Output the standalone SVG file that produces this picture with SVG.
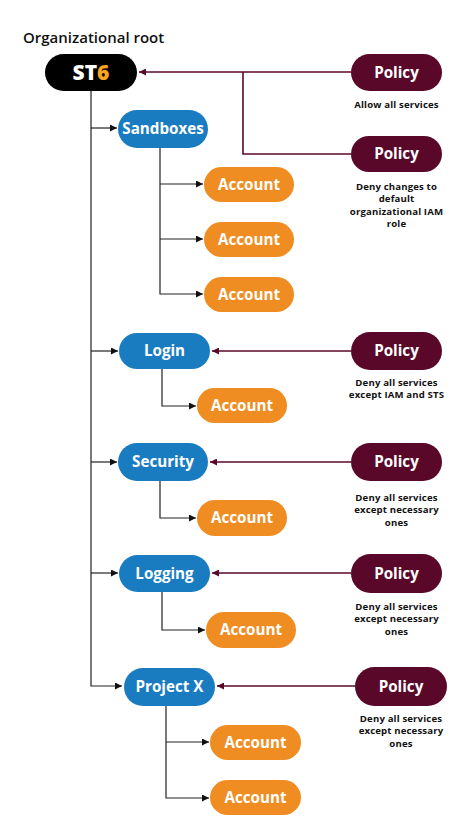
<svg xmlns="http://www.w3.org/2000/svg" width="474" height="834" viewBox="0 0 474 834">
<style>
.t{font-family:"Open Sans","Liberation Sans",sans-serif;font-weight:700;text-anchor:middle;fill:#fff;font-size:15.2px}
.l{font-family:"Open Sans","Liberation Sans",sans-serif;font-weight:700;text-anchor:middle;fill:#111;font-size:9.6px;letter-spacing:0.15px}
.ou{fill:#1a7cc0}
.ac{fill:#ef8d22}
.po{fill:#5a0829}
.k{fill:none;stroke:#222;stroke-width:1.2}
.m{fill:none;stroke:#5a0829;stroke-width:1.6}
</style>
<defs>
<marker id="ak" viewBox="0 0 10 10" refX="10" refY="5" markerWidth="8" markerHeight="7" markerUnits="userSpaceOnUse" orient="auto"><path d="M0,0L10,5L0,10z" fill="#111"/></marker>
<marker id="am" viewBox="0 0 10 10" refX="10" refY="5" markerWidth="9" markerHeight="7" markerUnits="userSpaceOnUse" orient="auto"><path d="M0,0L10,5L0,10z" fill="#5a0829"/></marker>
</defs>
<rect width="474" height="834" fill="#fff"/>
<text x="23" y="43" style="font-family:'Open Sans','Liberation Sans',sans-serif;font-weight:600;font-size:15px;fill:#111">Organizational root</text>
<g id="connectors">
<path class="k" d="M91,91V686H122" marker-end="url(#ak)"/>
<path class="k" d="M91,128H117" marker-end="url(#ak)"/>
<path class="k" d="M91,351H118" marker-end="url(#ak)"/>
<path class="k" d="M91,462H117" marker-end="url(#ak)"/>
<path class="k" d="M91,573H118" marker-end="url(#ak)"/>
<path class="k" d="M160,148V294H203" marker-end="url(#ak)"/>
<path class="k" d="M160,184H203" marker-end="url(#ak)"/>
<path class="k" d="M160,239H203" marker-end="url(#ak)"/>
<path class="k" d="M162,369V406H196" marker-end="url(#ak)"/>
<path class="k" d="M160,481V518H196" marker-end="url(#ak)"/>
<path class="k" d="M162,592V630H205" marker-end="url(#ak)"/>
<path class="k" d="M166,706V798H209" marker-end="url(#ak)"/>
<path class="k" d="M166,742H209" marker-end="url(#ak)"/>
<path class="m" d="M351,72H139" marker-end="url(#am)"/>
<path class="m" d="M351,154H243V72"/>
<path class="m" d="M351,351H212" marker-end="url(#am)"/>
<path class="m" d="M351,462H210" marker-end="url(#am)"/>
<path class="m" d="M351,573H212" marker-end="url(#am)"/>
<path class="m" d="M355,686H217" marker-end="url(#am)"/>
</g>
<g id="root"><rect x="45" y="54" width="92" height="37" rx="18.5" fill="#000"/><text x="91" y="80" style="font-family:'Open Sans','Liberation Sans',sans-serif;font-weight:800;font-size:21px;text-anchor:middle;fill:#fff">ST<tspan fill="#f5a623">6</tspan></text></g>
<g id="sandboxes"><rect class="ou" x="118" y="110" width="90" height="38" rx="19"/><text class="t" x="163" y="134">Sandboxes</text></g>
<g id="acc1"><rect class="ac" x="204" y="167" width="90" height="35" rx="17.5"/><text class="t" x="249" y="189.5">Account</text></g>
<g id="acc2"><rect class="ac" x="204" y="222" width="90" height="35" rx="17.5"/><text class="t" x="249" y="244.5">Account</text></g>
<g id="acc3"><rect class="ac" x="204" y="277" width="90" height="35" rx="17.5"/><text class="t" x="249" y="299.5">Account</text></g>
<g id="login"><rect class="ou" x="119" y="333" width="91" height="36" rx="18"/><text class="t" x="164.5" y="356">Login</text></g>
<g id="acc4"><rect class="ac" x="197" y="388" width="90" height="35" rx="17.5"/><text class="t" x="242" y="410.5">Account</text></g>
<g id="security"><rect class="ou" x="118" y="443" width="90" height="38" rx="19"/><text class="t" x="163" y="467">Security</text></g>
<g id="acc5"><rect class="ac" x="197" y="500" width="90" height="36" rx="18"/><text class="t" x="242" y="523">Account</text></g>
<g id="logging"><rect class="ou" x="119" y="555" width="91" height="37" rx="18.5"/><text class="t" x="164.5" y="578.5">Logging</text></g>
<g id="acc6"><rect class="ac" x="206" y="612" width="90" height="36" rx="18"/><text class="t" x="251" y="635">Account</text></g>
<g id="projectx"><rect class="ou" x="124" y="668" width="91" height="38" rx="19"/><text class="t" x="169.5" y="692">Project X</text></g>
<g id="acc7"><rect class="ac" x="210" y="725" width="91" height="35" rx="17.5"/><text class="t" x="255.5" y="747.5">Account</text></g>
<g id="acc8"><rect class="ac" x="210" y="780" width="91" height="35" rx="17.5"/><text class="t" x="255.5" y="802.5">Account</text></g>
<g id="policy1"><rect class="po" x="351" y="54" width="91" height="37" rx="18.5"/><text class="t" x="396.5" y="78">Policy</text><text class="l" x="396.5" y="108">Allow all services</text></g>
<g id="policy2"><rect class="po" x="351" y="136" width="91" height="36" rx="18"/><text class="t" x="396.5" y="159">Policy</text><text class="l" x="396.5" y="190">Deny changes to</text><text class="l" x="396.5" y="202.3">default</text><text class="l" x="396.5" y="214.6">organizational IAM</text><text class="l" x="396.5" y="226.9">role</text></g>
<g id="policy3"><rect class="po" x="351" y="332" width="91" height="38" rx="19"/><text class="t" x="396.5" y="356">Policy</text><text class="l" x="396.5" y="386">Deny all services</text><text class="l" x="396.5" y="398.3">except IAM and STS</text></g>
<g id="policy4"><rect class="po" x="351" y="443" width="91" height="38" rx="19"/><text class="t" x="396.5" y="467">Policy</text><text class="l" x="396.5" y="501">Deny all services</text><text class="l" x="396.5" y="513.3">except necessary</text><text class="l" x="396.5" y="525.6">ones</text></g>
<g id="policy5"><rect class="po" x="351" y="554" width="91" height="39" rx="19.5"/><text class="t" x="396.5" y="578.5">Policy</text><text class="l" x="396.5" y="610">Deny all services</text><text class="l" x="396.5" y="622.3">except necessary</text><text class="l" x="396.5" y="634.6">ones</text></g>
<g id="policy6"><rect class="po" x="355" y="667" width="92" height="39" rx="19.5"/><text class="t" x="401" y="691.5">Policy</text><text class="l" x="401" y="722">Deny all services</text><text class="l" x="401" y="734.3">except necessary</text><text class="l" x="401" y="746.6">ones</text></g>
</svg>
